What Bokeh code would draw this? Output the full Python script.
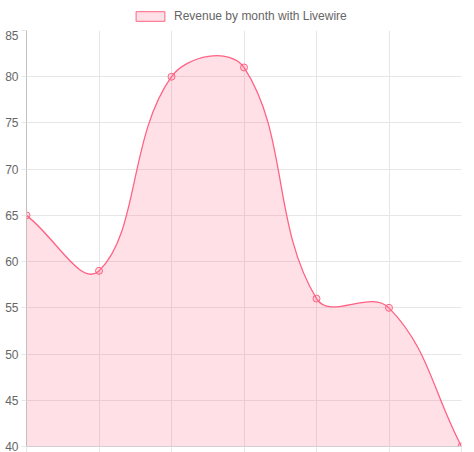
import math
import numpy as np
from bokeh.plotting import figure
from bokeh.layouts import column
from bokeh.models import Range1d, FixedTicker, Legend, LegendItem
from bokeh.embed import file_html
from bokeh.resources import INLINE

# ---- data ----
series_label = "Revenue by month with Livewire"
x_index = [0, 1, 2, 3, 4, 5, 6]
revenue = [65, 59, 80, 81, 56, 55, 40]
y_ticks = [40, 45, 50, 55, 60, 65, 70, 75, 80, 85]

Y_MIN, Y_MAX = 40, 85
LINE = "#ff6384"
FILL = "rgba(255,99,132,0.2)"
GRID = "#e6e6e6"
FONT = "Liberation Sans"

W = 474
LEG_H = 30
MAIN_H = 422

# ---- legend strip (separate small figure on top) ----
lf = figure(width=W, height=LEG_H, output_backend="svg", toolbar_location=None,
            x_range=Range1d(0, 1), y_range=Range1d(0, 1),
            min_border_left=0, min_border_right=0, min_border_top=0,
            min_border_bottom=0, x_axis_location=None, y_axis_location=None)
lf.outline_line_color = None
lf.xgrid.visible = False
lf.ygrid.visible = False
swatch = lf.patch(x=[-10, -9, -9], y=[-10, -10, -9], fill_color=FILL,
                  line_color=LINE, line_width=1)
legend = Legend(items=[LegendItem(label=series_label, renderers=[swatch])],
                location=(106, 7), orientation="horizontal",
                glyph_width=36, glyph_height=12, label_standoff=6,
                padding=0, margin=0, spacing=0, label_height=12,
                border_line_alpha=0, background_fill_alpha=0,
                label_text_font_size="12px", label_text_color="#666666",
                label_text_font=FONT)
lf.add_layout(legend, "center")

# ---- main chart ----
p = figure(width=W, height=MAIN_H, output_backend="svg", toolbar_location=None,
           x_range=Range1d(0, 6), y_range=Range1d(Y_MIN, Y_MAX),
           min_border_left=26, min_border_right=13, min_border_top=0,
           min_border_bottom=6)
p.outline_line_color = None
p.background_fill_color = "white"

# Chart.js-like spline (tension 0.4), computed in pixel space
sx = 435 / 6.0
sy = 416 / 45.0
tension = 0.4
n = len(x_index)
px = [x * sx for x in x_index]
py = [y * sy for y in revenue]
prev_cp, next_cp = [], []


def cap(c):
    cx = min(max(c[0] / sx, 0), 6)
    cy = min(max(c[1] / sy, Y_MIN), Y_MAX)
    return cx, cy


for i in range(n):
    i0 = max(i - 1, 0)
    i2 = min(i + 1, n - 1)
    d01 = math.hypot(px[i] - px[i0], py[i] - py[i0])
    d12 = math.hypot(px[i2] - px[i], py[i2] - py[i])
    tot = d01 + d12
    s01 = d01 / tot if tot else 0
    s12 = d12 / tot if tot else 0
    fa, fb = tension * s01, tension * s12
    dx, dy = px[i2] - px[i0], py[i2] - py[i0]
    prev_cp.append(cap((px[i] - fa * dx, py[i] - fa * dy)))
    next_cp.append(cap((px[i] + fb * dx, py[i] + fb * dy)))

x0 = x_index[:-1]; y0 = revenue[:-1]
x1 = x_index[1:]; y1 = revenue[1:]
cx0 = [next_cp[i][0] for i in range(n - 1)]
cy0 = [next_cp[i][1] for i in range(n - 1)]
cx1 = [prev_cp[i + 1][0] for i in range(n - 1)]
cy1 = [prev_cp[i + 1][1] for i in range(n - 1)]

# sampled curve for the area fill
fx, fy = [], []
ts = np.linspace(0, 1, 40)
for i in range(n - 1):
    for t in (ts if i == 0 else ts[1:]):
        a = (1 - t) ** 3; b = 3 * (1 - t) ** 2 * t; c = 3 * (1 - t) * t ** 2; d = t ** 3
        fx.append(float(a * x0[i] + b * cx0[i] + c * cx1[i] + d * x1[i]))
        fy.append(float(a * y0[i] + b * cy0[i] + c * cy1[i] + d * y1[i]))

p.varea(x=fx, y1=[Y_MIN] * len(fx), y2=fy, fill_color=FILL)
p.bezier(x0=x0, y0=y0, x1=x1, y1=y1, cx0=cx0, cy0=cy0, cx1=cx1, cy1=cy1,
         line_color=LINE, line_width=1.3)
p.scatter(x_index, revenue, size=7, fill_color=FILL, line_color=LINE, line_width=1)

# axes & grid
p.yaxis.ticker = FixedTicker(ticks=y_ticks)
p.yaxis.major_label_text_font_size = "12px"
p.yaxis.major_label_text_color = "#666666"
p.yaxis.major_label_text_font = FONT
p.yaxis.major_tick_out = 5
p.yaxis.major_tick_in = 0
p.yaxis.minor_tick_line_color = None
p.yaxis.major_tick_line_color = GRID
p.yaxis.axis_line_color = "#c0c0c0"
p.yaxis.major_label_standoff = 3

p.xaxis.ticker = FixedTicker(ticks=x_index)
p.xaxis.major_label_overrides = {i: "" for i in x_index}
p.xaxis.major_label_standoff = 0
p.xaxis.major_tick_out = 6
p.xaxis.major_tick_in = 0
p.xaxis.minor_tick_line_color = None
p.xaxis.major_tick_line_color = GRID
p.xaxis.axis_line_color = "#d0d0d0"

p.xgrid.ticker = FixedTicker(ticks=x_index)
p.ygrid.ticker = FixedTicker(ticks=y_ticks)
p.xgrid.grid_line_color = GRID
p.ygrid.grid_line_color = GRID

layout = column(lf, p, spacing=0)
open("out.html", "w").write(file_html(layout, INLINE))
